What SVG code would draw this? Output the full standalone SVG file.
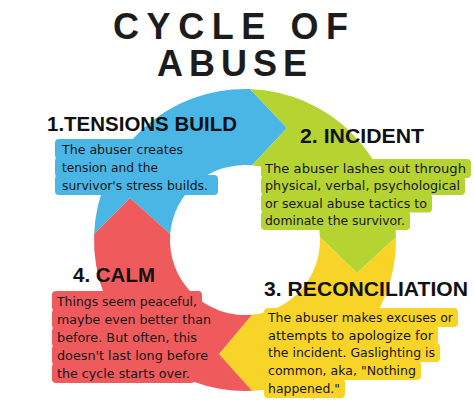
<svg xmlns="http://www.w3.org/2000/svg" width="474" height="407" viewBox="0 0 474 407">
<style>
.title{font-family:"Liberation Sans",Arial,sans-serif;font-weight:bold;font-size:36px;fill:#1c1c1c}
.head{font-family:"Liberation Sans",Arial,sans-serif;font-weight:bold;font-size:19.5px;fill:#111}
.body{font-family:"DejaVu Sans","Liberation Sans",sans-serif;font-size:13px;fill:#161616}
.blue{fill:#4ab6e6}
.green{fill:#b5d431}
.yellow{fill:#f8d428}
.red{fill:#ef5a5d}
</style>
<rect width="474" height="407" fill="#ffffff"/>
<g id="title">
<text class="title" x="113" y="39" textLength="235" lengthAdjust="spacing">CYCLE OF</text>
<text class="title" x="157" y="76" textLength="150" lengthAdjust="spacing">ABUSE</text>
</g>
<g id="connectors">
<path class="blue" d="M94.1,234 A151,151 0 0 1 250,89.1 L287,128 L252,165.3 A75,75 0 0 0 170.2,234 L130,198 Z"/>
<path class="green" d="M250,89.1 A151,151 0 0 1 396,237 L357,273 L319.9,237 A75,75 0 0 0 252,165.3 L287,128 Z"/>
<path class="yellow" d="M396,237 A151,151 0 0 1 252,390.8 L219,354 L252,314.7 A75,75 0 0 0 319.9,237 L357,273 Z"/>
<path class="red" d="M252,390.8 A151,151 0 0 1 94.1,234 L130,198 L170.2,234 A75,75 0 0 0 252,314.7 L219,354 Z"/>
</g>
<g id="node-tensions">
<text class="head" x="47" y="131" textLength="190" lengthAdjust="spacingAndGlyphs">1.TENSIONS BUILD</text>
<g class="blue">
<rect x="55" y="139" width="138" height="20" rx="4"/>
<rect x="55" y="157" width="113" height="20" rx="4"/>
<rect x="55" y="175" width="163" height="20" rx="4"/>
</g>
<text class="body" x="62" y="154" textLength="121" lengthAdjust="spacingAndGlyphs">The abuser creates</text>
<text class="body" x="62" y="172" textLength="96" lengthAdjust="spacingAndGlyphs">tension and the</text>
<text class="body" x="62" y="190" textLength="146" lengthAdjust="spacingAndGlyphs">survivor's stress builds.</text>
</g>
<g id="node-incident">
<text class="head" x="300" y="143" textLength="124" lengthAdjust="spacingAndGlyphs">2. INCIDENT</text>
<g class="green">
<rect x="261" y="159" width="210" height="19" rx="4"/>
<rect x="261" y="176" width="204" height="19" rx="4"/>
<rect x="261" y="193.5" width="171" height="19" rx="4"/>
<rect x="261" y="211" width="149" height="19" rx="4"/>
</g>
<text class="body" x="265" y="173" textLength="201" lengthAdjust="spacingAndGlyphs">The abuser lashes out through</text>
<text class="body" x="265" y="190" textLength="195" lengthAdjust="spacingAndGlyphs">physical, verbal, psychological</text>
<text class="body" x="265" y="207.5" textLength="162" lengthAdjust="spacingAndGlyphs">or sexual abuse tactics to</text>
<text class="body" x="265" y="225" textLength="140" lengthAdjust="spacingAndGlyphs">dominate the survivor.</text>
</g>
<g id="node-reconciliation">
<text class="head" x="264" y="296" textLength="204" lengthAdjust="spacingAndGlyphs">3. RECONCILIATION</text>
<g class="yellow">
<rect x="264" y="308" width="194" height="19" rx="4"/>
<rect x="264" y="325.5" width="174" height="19" rx="4"/>
<rect x="264" y="343" width="176" height="19" rx="4"/>
<rect x="264" y="361" width="157" height="19" rx="4"/>
<rect x="264" y="379" width="81" height="19" rx="4"/>
</g>
<text class="body" x="268" y="322" textLength="185" lengthAdjust="spacingAndGlyphs">The abuser makes excuses or</text>
<text class="body" x="268" y="339.5" textLength="165" lengthAdjust="spacingAndGlyphs">attempts to apologize for</text>
<text class="body" x="268" y="357" textLength="167" lengthAdjust="spacingAndGlyphs">the incident. Gaslighting is</text>
<text class="body" x="268" y="375" textLength="148" lengthAdjust="spacingAndGlyphs">common, aka, "Nothing</text>
<text class="body" x="268" y="393" textLength="72" lengthAdjust="spacingAndGlyphs">happened."</text>
</g>
<g id="node-calm">
<text class="head" x="73" y="282" textLength="82" lengthAdjust="spacingAndGlyphs">4. CALM</text>
<g class="red">
<rect x="52" y="291" width="150" height="20" rx="4"/>
<rect x="52" y="309" width="164" height="20" rx="4"/>
<rect x="52" y="327" width="150" height="20" rx="4"/>
<rect x="52" y="345" width="161" height="20" rx="4"/>
<rect x="52" y="363" width="143" height="20" rx="4"/>
</g>
<text class="body" x="57" y="306" textLength="140" lengthAdjust="spacingAndGlyphs">Things seem peaceful,</text>
<text class="body" x="57" y="324" textLength="154" lengthAdjust="spacingAndGlyphs">maybe even better than</text>
<text class="body" x="57" y="342" textLength="140" lengthAdjust="spacingAndGlyphs">before. But often, this</text>
<text class="body" x="57" y="360" textLength="151" lengthAdjust="spacingAndGlyphs">doesn't last long before</text>
<text class="body" x="57" y="377.5" textLength="133" lengthAdjust="spacingAndGlyphs">the cycle starts over.</text>
</g>
</svg>
